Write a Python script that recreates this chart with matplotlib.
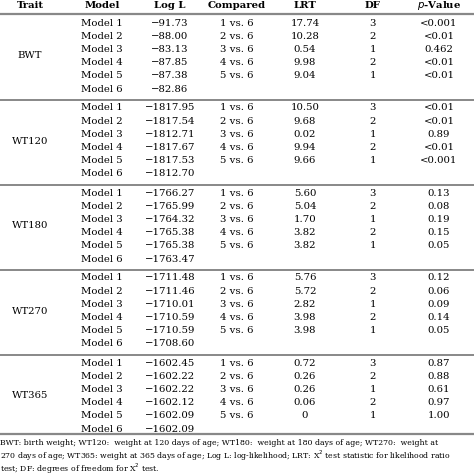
import matplotlib.pyplot as plt

traits = ["BWT", "WT120", "WT180", "WT270", "WT365"]
models = ["Model 1", "Model 2", "Model 3", "Model 4", "Model 5", "Model 6"]
compared = ["1 vs. 6", "2 vs. 6", "3 vs. 6", "4 vs. 6", "5 vs. 6", ""]
logl = [
    ["\u221291.73", "\u221288.00", "\u221283.13", "\u221287.85", "\u221287.38", "\u221282.86"],
    ["\u22121817.95", "\u22121817.54", "\u22121812.71", "\u22121817.67", "\u22121817.53", "\u22121812.70"],
    ["\u22121766.27", "\u22121765.99", "\u22121764.32", "\u22121765.38", "\u22121765.38", "\u22121763.47"],
    ["\u22121711.48", "\u22121711.46", "\u22121710.01", "\u22121710.59", "\u22121710.59", "\u22121708.60"],
    ["\u22121602.45", "\u22121602.22", "\u22121602.22", "\u22121602.12", "\u22121602.09", "\u22121602.09"],
]
lrt = [
    ["17.74", "10.28", "0.54", "9.98", "9.04", ""],
    ["10.50", "9.68", "0.02", "9.94", "9.66", ""],
    ["5.60", "5.04", "1.70", "3.82", "3.82", ""],
    ["5.76", "5.72", "2.82", "3.98", "3.98", ""],
    ["0.72", "0.26", "0.26", "0.06", "0", ""],
]
df = ["3", "2", "1", "2", "1", ""]
pval = [
    ["<0.001", "<0.01", "0.462", "<0.01", "<0.01", ""],
    ["<0.01", "<0.01", "0.89", "<0.01", "<0.001", ""],
    ["0.13", "0.08", "0.19", "0.15", "0.05", ""],
    ["0.12", "0.06", "0.09", "0.14", "0.05", ""],
    ["0.87", "0.88", "0.61", "0.97", "1.00", ""],
]
headers = ["Trait", "Model", "Log L", "Compared", "LRT", "DF", "$\\it{p}$-Value"]

W, H = 474, 476
fig = plt.figure(figsize=(W / 100, H / 100), dpi=100)
ax = fig.add_axes([0, 0, 1, 1])
ax.set_xlim(0, W)
ax.set_ylim(H, 0)
ax.axis("off")
fam = "DejaVu Serif"
fs = 7.3
cols = [30, 102, 170, 237, 305, 373, 439]

for x, h in zip(cols, headers):
    ax.text(x, 5, h, ha="center", va="center", fontsize=fs, fontweight="bold", family=fam)

lines = [14, 100, 185, 270, 355, 434]
for i, y in enumerate(lines):
    ax.plot([0, W], [y, y], color="#888888", lw=1.6 if i in (0, 5) else 1.4)

for g, t in enumerate(traits):
    y0 = 23 + 85 * g
    ax.text(cols[0], y0 + 2.5 * 13.2, t, ha="center", va="center", fontsize=fs, family=fam)
    for r in range(6):
        y = y0 + 13.2 * r
        vals = [models[r], logl[g][r], compared[r], lrt[g][r], df[r], pval[g][r]]
        for x, v in zip(cols[1:], vals):
            if v:
                ax.text(x, y, v, ha="center", va="center", fontsize=fs, family=fam)

foot = [
    "BWT: birth weight; WT120:  weight at 120 days of age; WT180:  weight at 180 days of age; WT270:  weight at",
    "270 days of age; WT365: weight at 365 days of age; Log L: log-likelihood; LRT: X$^2$ test statistic for likelihood ratio",
    "test; DF: degrees of freedom for X$^2$ test.",
]
for i, s in enumerate(foot):
    ax.text(0, 443 + 13 * i, s, ha="left", va="center", fontsize=5.6, family=fam)

fig.savefig("out.png", dpi=100)
